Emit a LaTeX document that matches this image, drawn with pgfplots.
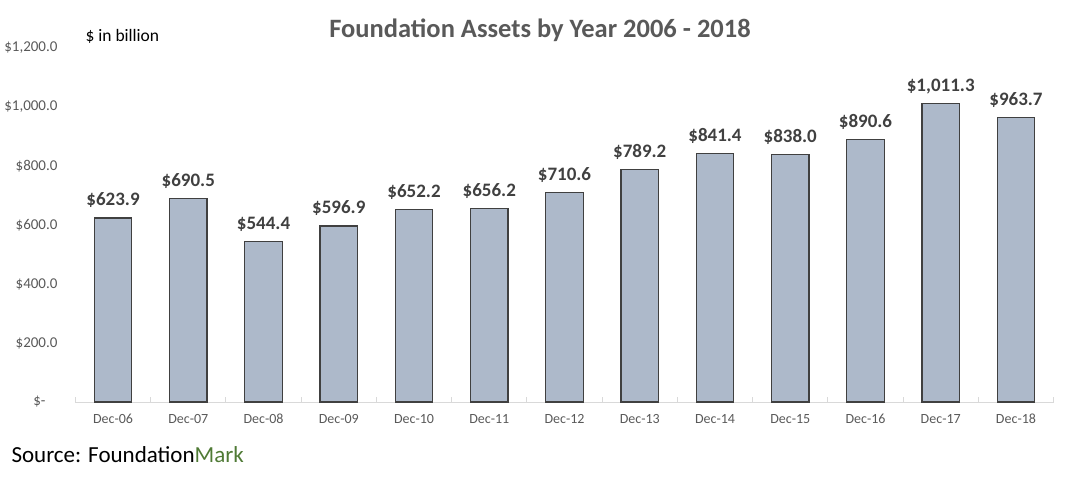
\documentclass[border=0pt]{standalone}
\usepackage{pgfplots}
\pgfplotsset{compat=1.18}
\usepackage{fontspec}
\setmainfont{Carlito}
\definecolor{barfill}{HTML}{ADB9CA}
\definecolor{baredge}{HTML}{404040}
\definecolor{txtgrey}{HTML}{595959}
\definecolor{valgrey}{HTML}{404040}
\definecolor{axgrey}{HTML}{D9D9D9}
\definecolor{markgreen}{HTML}{4F7A35}
\begin{document}
\begin{tikzpicture}
\useasboundingbox (0pt,0pt) rectangle (1080pt,483pt);
\begin{axis}[
    at={(75.4pt,81pt)}, anchor=south west,
    scale only axis,
    width=978.2pt, height=354pt,
    xmin=-0.5, xmax=12.5,
    ymin=0, ymax=1200,
    axis x line*=bottom,
    axis y line=none,
    x axis line style={axgrey, line width=1pt, -},
    xtick={0,...,12},
    xticklabels={Dec-06,Dec-07,Dec-08,Dec-09,Dec-10,Dec-11,Dec-12,Dec-13,Dec-14,Dec-15,Dec-16,Dec-17,Dec-18},
    major tick length=0pt,
    minor xtick={-0.5,0.5,...,12.5},
    minor tick length=5pt,
    minor tick style={axgrey, line width=1pt},
    xticklabel style={font=\fontsize{14}{16}\selectfont, text=txtgrey, anchor=north,
        text height=10pt, text depth=3pt, yshift=-8pt},
    clip=false,
    /pgf/number format/assume math mode=true,
    nodes near coords={\$\pgfmathprintnumber[fixed, fixed zerofill, precision=1, 1000 sep={,}, assume math mode=true]{\pgfplotspointmeta}},
    nodes near coords style={font=\bfseries\fontsize{19}{22}\selectfont, text=valgrey, anchor=south, yshift=6pt},
]
\addplot[ybar, bar width=37.5pt, fill=barfill, draw=baredge, line width=1.2pt]
  coordinates {
    (0,623.9) (1,690.5) (2,544.4) (3,596.9) (4,652.2) (5,656.2) (6,710.6)
    (7,789.2) (8,841.4) (9,838.0) (10,890.6) (11,1011.3) (12,963.7)
  };
\end{axis}
% y tick labels (the chart has no visible y axis line)
\begin{scope}[every node/.style={anchor=east, font=\fontsize{15}{17}\selectfont, text=txtgrey}]
\node at (61pt,435pt) {\$1,200.0};
\node at (61pt,376pt) {\$1,000.0};
\node at (61pt,317pt) {\$800.0};
\node at (61pt,258pt) {\$600.0};
\node at (61pt,199pt) {\$400.0};
\node at (61pt,140pt) {\$200.0};
\node at (49pt,81pt) {\$-};
\end{scope}
\node[anchor=west, font=\fontsize{17.5}{20}\selectfont] at (82pt,447pt) {\$ in billion};
\node[font=\bfseries\fontsize{26.5}{30}\selectfont, text=txtgrey] at (540pt,453pt) {Foundation Assets by Year 2006 - 2018};
\node[anchor=west, font=\fontsize{23}{26}\selectfont] at (8pt,28pt) {Source: Foundation\textcolor{markgreen}{Mark}};
\end{tikzpicture}
\end{document}
